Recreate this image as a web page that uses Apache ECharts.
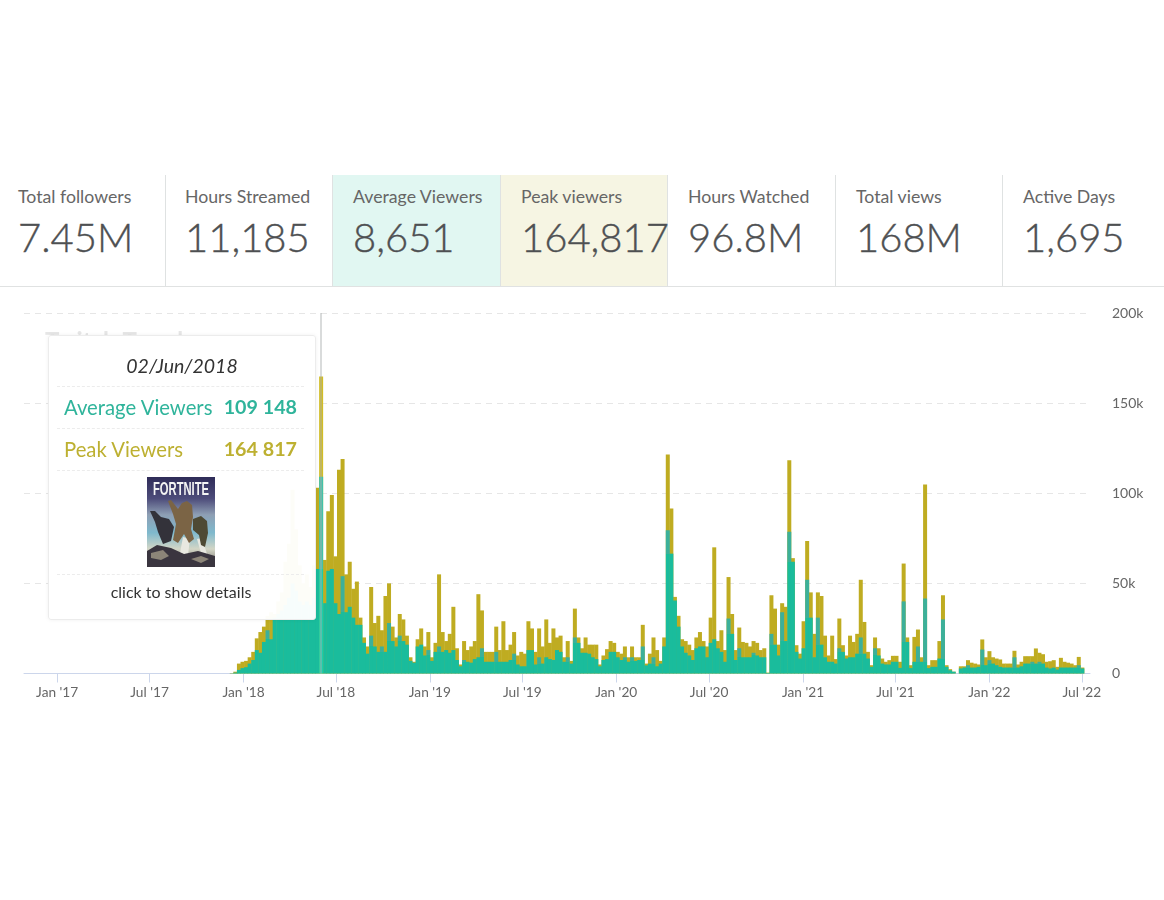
<!DOCTYPE html>
<html>
<head>
<meta charset="UTF-8">
<title>Twitch Trends</title>
<script src="https://cdn.jsdelivr.net/npm/echarts@6/dist/echarts.min.js"></script>
<style>
	html, body { margin: 0; padding: 0; background: #fff; font-family: Lato, sans-serif; }
	#page { position: relative; width: 1164px; height: 900px; overflow: hidden; }
	#stats { position: absolute; left: 0; top: 175px; width: 1164px; height: 111px; border-bottom: 1px solid #e0e2e2; }
	.stat { position: absolute; top: 0; height: 111px; box-sizing: border-box; border-right: 1px solid #dfe2e2; overflow: visible; }
	.stat .name { position: absolute; top: 11px; font-size: 17.7px; line-height: 22px; color: #666; white-space: nowrap; }
	.stat .num { position: absolute; top: 35px; font-size: 40px; line-height: 54px; font-weight: 300; color: #4e5052; white-space: nowrap; -webkit-text-stroke: 0.4px #4e5052; }
	.stat.avg { background: #e1f7f2; }
	.stat.peak { background: #f6f5e3; }
	#chart { position: absolute; left: 0; top: 290px; width: 1164px; height: 420px; }
	.tip { width: 266px; height: 283px; font-family: Lato, sans-serif; position: relative; }
	.tip div { position: absolute; white-space: nowrap; }
	.tip .rule { left: 8px; width: 247px; border-top: 1px dashed #ececec; }
</style>
</head>
<body>
<div id="page">
	<div id="stats"></div>
	<div id="chart"></div>
</div>
<script type="text/javascript">
	// 顶部统计
	var statNames = ['Total followers', 'Hours Streamed', 'Average Viewers', 'Peak viewers', 'Hours Watched', 'Total views', 'Active Days'];
	var statValues = ['7.45M', '11,185', '8,651', '164,817', '96.8M', '168M', '1,695'];
	var statEdges = [0, 166, 333, 501, 668, 836, 1003, 1164];

	// 横轴刻度
	var tickDates = ['2017-01-01', '2017-07-01', '2018-01-01', '2018-07-01', '2019-01-01', '2019-07-01', '2020-01-01', '2020-07-01', '2021-01-01', '2021-07-01', '2022-01-01', '2022-07-01'];
	var tickLabels = ["Jan '17", "Jul '17", "Jan '18", "Jul '18", "Jan '19", "Jul '19", "Jan '20", "Jul '20", "Jan '21", "Jul '21", "Jan '22", "Jul '22"];

	// 每周一个点，单位千人
	var firstWeek = '2017-12-09';
	var peakViewers = [
		0.2, 1, 5.5, 6.5, 7, 9, 12, 19.5, 23, 26,
		32, 34, 33, 40, 45, 62, 72, 102, 80, 60,
		50, 55, 48, 60, 103, 164.817, 63, 90, 99, 65,
		113, 119, 55, 62, 47, 51, 31, 20, 15, 48,
		28, 32, 24, 43, 50, 26, 20, 33, 30, 21,
		9, 6.5, 19, 25, 15, 23, 9, 17, 55, 23,
		18, 22, 37, 14, 5, 18, 13, 15, 18, 44,
		35, 12, 12, 12, 26, 13, 29, 13, 16, 23,
		10, 12, 11, 29, 25, 12, 25, 15, 30, 17,
		25, 20, 21, 9, 18, 7, 36, 20, 14, 20,
		16, 16, 16, 5, 10, 13.5, 18, 17, 12, 11,
		15, 9, 15, 9, 9, 27, 5.5, 11, 20, 13,
		7, 20, 121.5, 91.5, 42.5, 32, 19, 18, 16, 13,
		20, 23, 18, 15, 31, 70, 18, 24, 13, 53.5,
		33, 13, 25.5, 17.5, 17, 15, 18, 17, 13, 14,
		0.5, 43.4, 36, 16, 39, 37, 118.3, 64, 15.7, 11,
		29, 73.5, 45, 22, 45, 43, 21, 10, 21, 8,
		30.5, 15.7, 10, 21, 17.5, 22, 52, 28.6, 12, 4.6,
		20, 14, 8.3, 6.5, 7.4, 9.8, 9.8, 6.5, 61, 20,
		4.6, 20.3, 24.4, 9, 104.8, 4.6, 7.4, 7.4, 18, 43.4,
		4.6, 2.4, 1, 0, 4, 4, 7.4, 6, 5.5, 5,
		18.9, 9, 12.4, 9, 8.3, 7.8, 5.5, 5.5, 5.5, 12.6,
		5, 6.5, 9.6, 9.6, 9.6, 13.9, 11.5, 10.7, 6.5, 6.8,
		7.4, 3.7, 8.7, 6.5, 6, 5.5, 4.6, 9.2, 3.3
	];
	var averageViewers = [
		0.1, 0.5, 2, 3, 3.5, 5.5, 7.5, 13, 11.5, 17.5,
		24, 19, 31, 33, 35, 38, 42, 50, 46, 40,
		38, 40, 38, 42, 58, 109.148, 39, 57, 58, 39,
		33, 54, 34, 37, 31, 27, 27, 17, 11, 21,
		15, 12, 15, 12, 28, 18, 15, 21, 18, 16,
		7, 6, 15, 16, 10, 13, 7, 12, 15, 12,
		13, 11.5, 13, 7.5, 4, 7.5, 6.5, 6, 8, 9,
		14, 6.5, 6.5, 6.5, 12, 6.5, 6.5, 6.5, 7.5, 11,
		5, 4, 4, 13, 13, 5, 9, 5.5, 9, 8,
		7.5, 13, 12, 6.5, 9, 5.5, 20, 17, 11.5, 11.5,
		11, 9, 8, 4, 7.5, 8, 12, 12, 9, 7.5,
		9, 6.5, 9, 7, 7.5, 15, 4.5, 5.5, 9, 4,
		5.5, 15, 79.5, 66.5, 40.5, 26, 15, 11.5, 10, 7.5,
		14, 15, 15, 9, 17, 19, 14, 12, 6.5, 30.5,
		22, 7.5, 14, 9, 9, 9, 11.5, 10, 9, 9,
		0.3, 22, 16, 10, 34, 18, 78.6, 62, 12, 8.3,
		14, 52, 31, 9, 31, 16, 9, 6.5, 6.5, 5.5,
		14, 12, 8.3, 9, 9, 11, 20, 11, 8.3, 3.7,
		14, 10, 5.5, 5, 5, 6.5, 6.5, 3.1, 40, 17.5,
		3, 6.5, 15, 6.5, 41.6, 3, 3.7, 3.7, 8.3, 30,
		3.7, 1.8, 1, 0, 2.8, 3.3, 4.6, 3.3, 3.3, 3.7,
		13.3, 4.6, 7.4, 5.5, 4.6, 3.7, 3.3, 3.3, 3.3, 9,
		3.3, 4, 5.5, 5.5, 6.5, 5.5, 6.5, 5.5, 3.3, 2.8,
		3.3, 2.2, 3.3, 3.3, 3.3, 3.3, 3.3, 4.6, 2.8
	];

	// 悬停的那一周
	var hoverIndex = 25;
	var hoverDate = '02/Jun/2018';
	var hoverGame = 'FORTNITE';

	var tealColor = '#1abc9c';
	var tealOverlap = '#3cb09a';
	var goldColor = '#bfac21';

	// 统计栏
	var statClass = ['', '', 'avg', 'peak', '', '', ''];
	var statPad = [18, 19, 20, 20, 20, 20, 20];
	var statsHtml = '';
	for (var s = 0; s < statNames.length; s++) {
		statsHtml += '<div class="stat ' + statClass[s] + '" style="left:' + statEdges[s] + 'px;width:' + (statEdges[s + 1] - statEdges[s]) + 'px;' + (s == 6 ? 'border-right:0;' : '') + '">'
			+ '<div class="name" style="left:' + statPad[s] + 'px">' + statNames[s] + '</div>'
			+ '<div class="num" style="left:' + statPad[s] + 'px">' + statValues[s] + '</div></div>';
	}
	document.getElementById('stats').innerHTML = statsHtml;

	var weekMs = 7 * 24 * 3600 * 1000;
	var firstMs = Date.parse(firstWeek + 'T00:00:00Z');
	var peakData = [], avgData = [];
	for (var i = 0; i < peakViewers.length; i++) {
		peakData.push([firstMs + i * weekMs, peakViewers[i]]);
		avgData.push([firstMs + i * weekMs, averageViewers[i]]);
	}
	var tickValues = tickDates.map(function(d) { return Date.parse(d + 'T00:00:00Z'); });

	function spaced(v) {
		return String(Math.round(v * 1000)).replace(/\B(?=(\d{3})+$)/g, ' ');
	}

	// 单独突出的柱子颜色偏暗，只画到相邻柱子的高度
	function avgColor(params) {
		var n = params.dataIndex;
		var side = Math.max(averageViewers[n - 1] || 0, averageViewers[n + 1] || 0);
		var v = averageViewers[n];
		if (v < side * 1.15) return tealColor;
		var f = 1 - side / v;
		return new echarts.graphic.LinearGradient(0, 0, 0, 1, [
			{ offset: 0, color: tealOverlap }, { offset: f, color: tealOverlap },
			{ offset: f, color: tealColor }, { offset: 1, color: tealColor }
		]);
	}

	function poster() {
		return '<svg width="68" height="90" viewBox="0 0 68 90" xmlns="http://www.w3.org/2000/svg">'
			+ '<defs><linearGradient id="sky" x1="0" y1="0" x2="0" y2="1">'
			+ '<stop offset="0" stop-color="#2f2c58"/><stop offset=".24" stop-color="#4d4c7a"/><stop offset=".42" stop-color="#8e9fb4"/><stop offset=".62" stop-color="#7fb9cd"/><stop offset=".8" stop-color="#d3d6c6"/><stop offset="1" stop-color="#6d6663"/>'
			+ '</linearGradient></defs>'
			+ '<rect width="68" height="90" fill="url(#sky)"/>'
			+ '<text x="34" y="18" text-anchor="middle" font-family="Liberation Sans Narrow, Liberation Sans, sans-serif" font-weight="700" font-size="18" fill="#f4f4f4" textLength="56" lengthAdjust="spacingAndGlyphs">' + hoverGame + '</text>'
			+ '<path d="M36 60l-3 16 8 2 2-16zM50 62l4 14 6 1-5-16z" fill="#e8e8e0"/>'
			+ '<path d="M3 34l5 0 6 6 8 2 5 8-3 14-8 3-5-12-3-10z" fill="#33323a"/>'
			+ '<path d="M21 24l3-1 7 9 4-6 5-2 5 4 1 12-2 12 3 10-5 4-5-9-6 9-5-3 3-16-3-10z" fill="#7b6445"/>'
			+ '<path d="M46 42l8-3 6 5 1 12-3 14-4-2-2-10-6-5z" fill="#4e4a34"/>'
			+ '<path d="M0 74l10-6 14 3 13 6 14-3 17 5v11H0z" fill="#3a353f"/>'
			+ '<path d="M4 76l12-3 6 6-8 4-10-2zM44 82l10-3 8 3-8 4z" fill="#8c8578"/>'
			+ '</svg>';
	}

	function tipHtml() {
		var n = hoverIndex;
		return '<div class="tip">'
			+ '<div style="left:0;width:266px;top:18px;text-align:center;font-size:19.5px;line-height:24px;font-style:italic;color:#333">' + hoverDate + '</div>'
			+ '<div class="rule" style="top:50px"></div>'
			+ '<div style="left:15px;top:59px;font-size:20.3px;line-height:24px;color:#2fb49b">Average Viewers</div>'
			+ '<div style="right:18px;top:59px;font-size:19.7px;line-height:24px;font-weight:700;color:#2fb49b">' + spaced(averageViewers[n]) + '</div>'
			+ '<div class="rule" style="top:92px"></div>'
			+ '<div style="left:15px;top:101px;font-size:20.3px;line-height:24px;color:#bdb031">Peak Viewers</div>'
			+ '<div style="right:18px;top:101px;font-size:19.7px;line-height:24px;font-weight:700;color:#bdb031">' + spaced(peakViewers[n]) + '</div>'
			+ '<div class="rule" style="top:134px"></div>'
			+ '<div style="left:98px;top:141px;width:68px;height:90px">' + poster() + '</div>'
			+ '<div class="rule" style="top:238px"></div>'
			+ '<div style="left:0;width:264px;top:245px;text-align:center;font-size:16px;line-height:22px;color:#333">click to show details</div>'
			+ '</div>';
	}

	var myChart = echarts.init(document.getElementById('chart'));
	var option = {
		animation: false,
		textStyle: { fontFamily: 'Lato, sans-serif' },
		title: {
			text: 'Twitch Trends',
			left: 40,
			top: 35,
			textStyle: { color: '#e6e6e6', fontSize: 24, fontWeight: 'bold' }
		},
		grid: { left: 24, top: 23, width: 1066, height: 360.5 },
		tooltip: {
			trigger: 'axis',
			alwaysShowContent: true,
			transitionDuration: 0,
			position: [48, 45],
			padding: 0,
			borderWidth: 1,
			borderColor: '#ececec',
			backgroundColor: 'rgba(255,255,255,0.97)',
			extraCssText: 'border-radius:3px;box-shadow:0 0 4px rgba(0,0,0,0.06);',
			axisPointer: {
				type: 'line',
				label: { show: false },
				lineStyle: { color: 'rgba(170,175,175,0.6)', width: 1.5, type: 'solid' }
			},
			formatter: tipHtml
		},
		xAxis: {
			type: 'value',
			min: Date.parse('2016-10-28T00:00:00Z'),
			max: Date.parse('2022-07-17T00:00:00Z'),
			axisLine: { onZero: false, lineStyle: { color: '#ccd6eb', width: 1 } },
			axisTick: { show: true, length: 9, customValues: tickValues, lineStyle: { color: '#ccd6eb' } },
			axisLabel: {
				customValues: tickValues,
				hideOverlap: false,
				margin: 12,
				fontSize: 13.7,
				color: '#666',
				formatter: function(value) {
					return tickLabels[tickValues.indexOf(value)] || '';
				}
			},
			splitLine: { show: false }
		},
		yAxis: {
			type: 'value',
			position: 'right',
			min: 0,
			max: 200,
			interval: 50,
			axisLine: { show: false },
			axisTick: { show: false },
			axisLabel: {
				margin: 22,
				fontSize: 14,
				color: '#666',
				formatter: function(v) { return v ? v + 'k' : '0'; }
			},
			splitLine: { lineStyle: { color: '#e6e6e6', type: [6, 5], width: 1 } }
		},
		series: [
			{
				name: 'Peak Viewers',
				type: 'bar',
				barWidth: 4,
				barGap: '-100%',
				itemStyle: { color: goldColor },
				data: peakData
			},
			{
				name: 'Average Viewers',
				type: 'bar',
				barWidth: 4,
				barGap: '-100%',
				itemStyle: { color: avgColor },
				data: avgData
			}
		]
	};
	myChart.setOption(option);
	myChart.dispatchAction({ type: 'showTip', seriesIndex: 0, dataIndex: hoverIndex });
</script>
</body>
</html>
